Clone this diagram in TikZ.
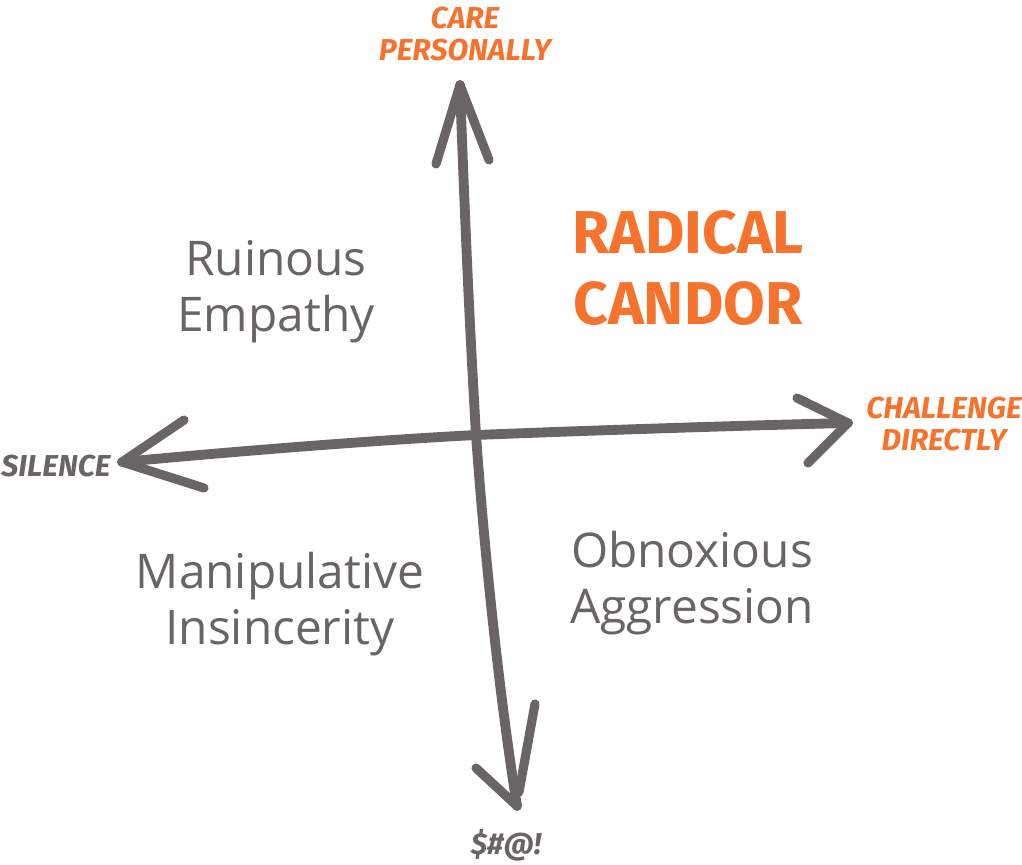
\documentclass[tikz,border=0pt]{standalone}
\usepackage{fontspec}
\setmainfont{Fira Sans}
\newfontfamily\handfont{Open Sans}
\definecolor{candor}{RGB}{246,115,45}
\definecolor{pencil}{RGB}{106,101,101}
\begin{document}
\begin{tikzpicture}[
  x=0.025cm, y=-0.025cm,
  axis/.style={draw=pencil, line width=7pt, line cap=round, line join=round},
  barb/.style={axis, line width=6.5pt},
  dirlabel/.style={font=\bfseries\itshape\fontsize{21.5}{23}\selectfont,
                   align=center, inner sep=0pt},
  quadrant/.style={font=\handfont\fontsize{34}{40}\selectfont, text=pencil,
                   align=center, inner sep=0pt}
]
\useasboundingbox (0,0) rectangle (1022,864);

% axis ends and crossing
\coordinate (top) at (460,85);
\coordinate (bottom) at (517,806);
\coordinate (left) at (122,462);
\coordinate (right) at (848,423);
\coordinate (cross) at (476,435);

% arrow barbs
\coordinate (top l) at (436,164);
\coordinate (top r) at (489,160);
\coordinate (bottom l) at (476,768);
\coordinate (bottom r) at (535,704);
\coordinate (left u) at (184,420);
\coordinate (left d) at (204,488);
\coordinate (right u) at (797,398);
\coordinate (right d) at (808,463);

% axes
\draw[axis] (top) .. controls (466,250) and (470,330) .. (cross)
  .. controls (485,560) and (500,700) .. (bottom);
\draw[axis] (left) .. controls (250,450) and (380,440) .. (cross)
  .. controls (600,430) and (760,425) .. (right);

% arrowheads
\draw[barb] (top l) -- (top) -- (top r);
\draw[barb] (bottom l) -- (bottom);
\draw[barb] (bottom r) -- (519,792);
\draw[barb] (left u) -- (left) -- (left d);
\draw[barb] (right u) -- (right) -- (right d);

% axis labels
\node[dirlabel, text=candor] (care) at (465,34) {CARE\\PERSONALLY};
\node[dirlabel, text=pencil] (silence) at (56,466) {SILENCE};
\node[dirlabel, text=candor] (challenge) at (944,424) {CHALLENGE\\DIRECTLY};
\node[dirlabel, text=pencil] (curse) at (506,845) {\$\#@!};

% quadrants
\node[font=\bfseries\fontsize{43}{50}\selectfont, text=candor, align=center,
      inner sep=0pt] (radical) at (688,268) {RADICAL\\CANDOR};
\node[quadrant] (ruinous) at (276,292) {Ruinous\\Empathy};
\node[quadrant] (manipulative) at (280,604) {Manipulative\\Insincerity};
\node[quadrant] (obnoxious) at (692,583) {Obnoxious\\Aggression};
\end{tikzpicture}
\end{document}
